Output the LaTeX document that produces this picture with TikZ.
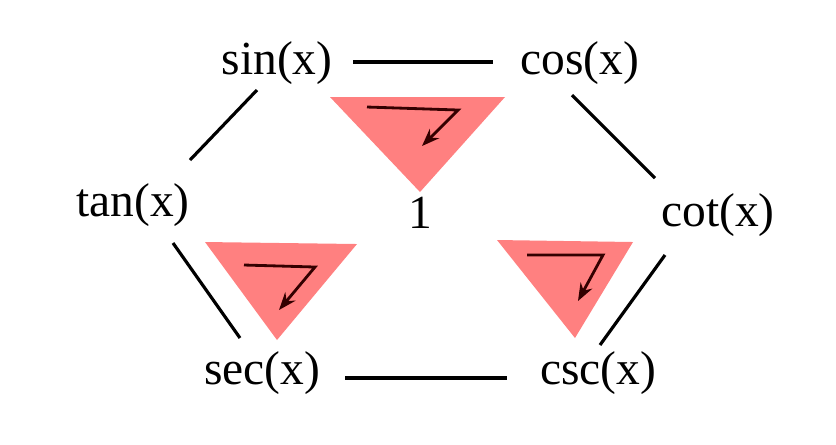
\documentclass[tikz,border=0pt]{standalone}
\usepackage{fontspec}
\setmainfont{Liberation Serif}
\usetikzlibrary{arrows.meta}
\begin{document}
\begin{tikzpicture}[x=0.01cm,y=-0.01cm,
  lbl/.style={font=\fontsize{13.5}{15}\selectfont},
  conn/.style={line width=0.9pt},
  tri/.style={fill={rgb,255:red,255;green,128;blue,128}},
  rot/.style={line width=0.8pt,draw=black!80!red,-{Stealth[length=5pt]}}]
\useasboundingbox (0,0) rectangle (836,444);
\node[lbl] (sin) at (277,63) {sin(x)};
\node[lbl] (cos) at (580,63) {cos(x)};
\node[lbl] (tan) at (133,205) {tan(x)};
\node[lbl] (one) at (420,213) {1};
\node[lbl] (cot) at (718,215) {cot(x)};
\node[lbl] (sec) at (262,373) {sec(x)};
\node[lbl] (csc) at (598,373) {csc(x)};
\draw[conn] (353,62) -- (493,62);
\draw[conn] (257,90) -- (190,160);
\draw[conn] (572,95) -- (655,178);
\draw[conn] (173,243) -- (240,338);
\draw[conn] (665,255) -- (600,345);
\draw[conn] (345,378) -- (507,378);
\fill[tri] (330,97) -- (505,97) -- (420,192) -- cycle;
\fill[tri] (205,242) -- (357,244) -- (277,340) -- cycle;
\fill[tri] (497,240) -- (633,242) -- (575,338) -- cycle;
\draw[rot] (367,107) -- (458,110) -- (422,146);
\draw[rot] (244,265) -- (315,267) -- (279,310);
\draw[rot] (527,255) -- (603,255) -- (578,301);
\end{tikzpicture}
\end{document}
